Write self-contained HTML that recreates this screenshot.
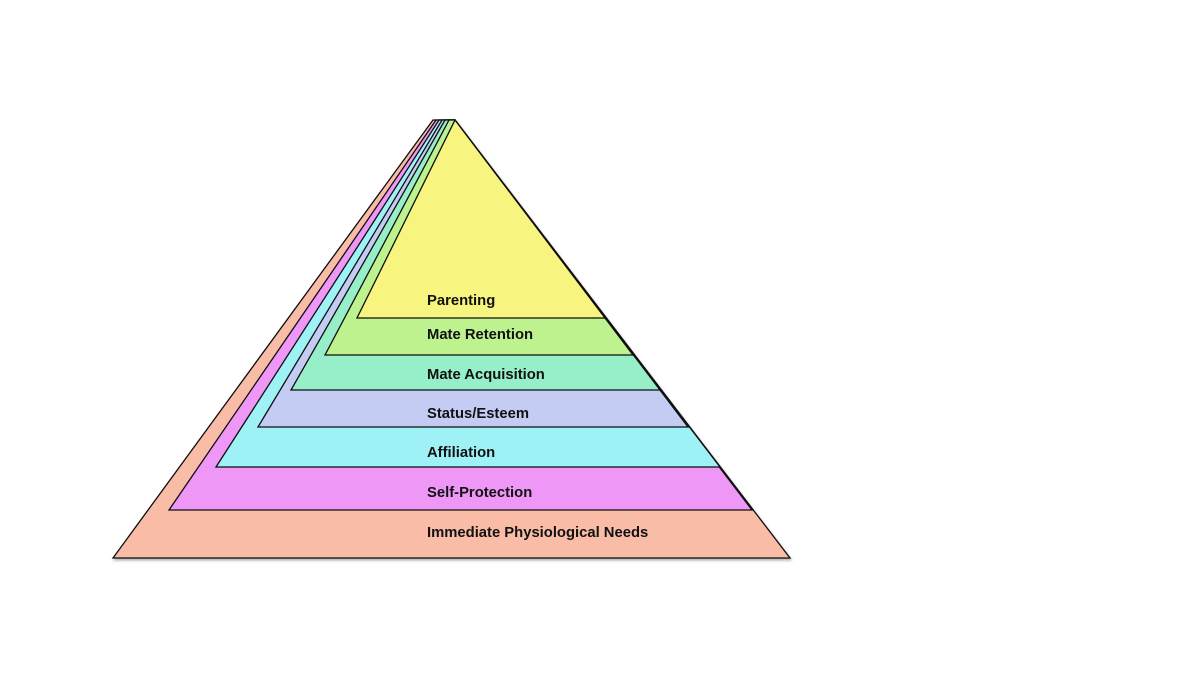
<!DOCTYPE html>
<html><head><style>
html,body{margin:0;padding:0;background:#fff;}
svg{display:block;}
text{font-family:"Liberation Sans",sans-serif;font-weight:bold;font-size:14.8px;fill:#111;}
</style></head><body>
<svg width="1200" height="675" viewBox="0 0 1200 675">
<defs><filter id="s" x="-5%" y="-5%" width="110%" height="115%"><feDropShadow dx="1" dy="2" stdDeviation="1.2" flood-color="#000" flood-opacity="0.3"/></filter></defs>
<g stroke="#111" stroke-width="1.3" stroke-linejoin="miter" filter="url(#s)">
<polygon points="433,120 455,120 790,558 113,558" fill="#f9bca6"/>
<polygon points="436,120 455,120 752,510 169,510" fill="#ee97f6"/>
<polygon points="439,120 455,120 720,467 216,467" fill="#9ef2f6"/>
<polygon points="442,120 455,120 688,427 258,427" fill="#c4ccf4"/>
<polygon points="445,120 455,120 660,390 291,390" fill="#97efc9"/>
<polygon points="449,120 455,120 633,355 325,355" fill="#bdf28e"/>
<polygon points="455,120 605,318 357,318" fill="#f7f47f"/>
</g>
<text x="427" y="305">Parenting</text>
<text x="427" y="339">Mate Retention</text>
<text x="427" y="379">Mate Acquisition</text>
<text x="427" y="418">Status/Esteem</text>
<text x="427" y="457">Affiliation</text>
<text x="427" y="497">Self-Protection</text>
<text x="427" y="537">Immediate Physiological Needs</text>
</svg>
</body></html>
